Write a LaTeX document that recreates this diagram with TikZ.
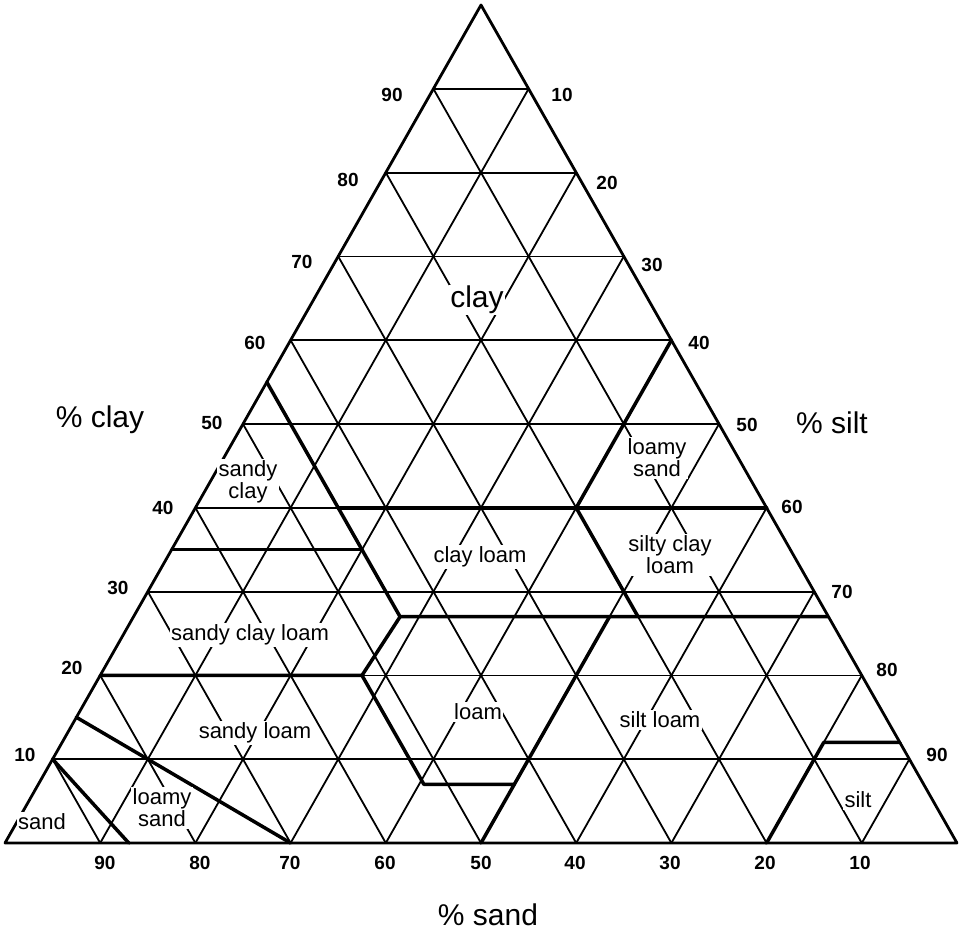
\documentclass[tikz,border=0pt]{standalone}
\usepackage{fontspec}
\setmainfont{Liberation Sans}
\begin{document}
\begin{tikzpicture}[x=1pt,y=-1pt,
  grid/.style={line width=1.8pt,black},
  bnd/.style={line width=3.5pt,black,line cap=round,line join=round},
  region/.style={font=\fontsize{22}{22}\selectfont,align=center,inner sep=1.5pt,fill=white},
  tick/.style={font=\fontsize{19}{19}\selectfont\bfseries,inner sep=1pt,fill=white},
  axis/.style={font=\fontsize{30}{30}\selectfont,inner sep=0pt}]
\useasboundingbox[fill=white] (0,0) rectangle (962,950);
\begin{scope}[shift={(5,843)},x={(9.52pt,0pt)},y={(4.76pt,8.38pt)}]
  \foreach \k in {10,20,...,90}{
    \draw[grid] (0,\k) -- ({100-\k},\k);
    \draw[grid] (\k,0) -- (\k,{100-\k});
    \draw[grid] ({100-\k},0) -- (0,{100-\k});
  }
  \draw[line width=2.8pt,line join=round] (0,0) -- (100,0) -- (0,100) -- cycle;
  % texture boundaries
  \draw[bnd] (13,0) -- (0,10);
  \draw[bnd] (30,0) -- (0,15);
  \draw[bnd] (0,20) -- (27.5,20) -- (40.5,7) -- (50,7) -- (50,0);
  \draw[bnd] (50,7) -- (50,27);
  \draw[bnd] (80,0) -- (80,12) -- (88,12);
  \draw[bnd] (0,55) -- (20,35) -- (28,27) -- (73,27);
  \draw[bnd] (0,35) -- (20,35);
  \draw[bnd] (27.5,20) -- (28,27);
  \draw[bnd] (15,40) -- (60,40);
  \draw[bnd] (40,40) -- (53,27);
  \draw[bnd] (40,40) -- (40,60);
\end{scope}
% region labels
\node[region] (lclay) at (477,300) {\fontsize{30}{30}\selectfont clay};
\node[region] (lls1) at (657,458) {loamy\\sand};
\node[region] (lsc) at (248,482) {sandy\\clay};
\node[region] (lcl) at (480,557) {clay loam};
\node[region] (lscl2) at (670,555) {silty clay\\loam};
\node[region] (lscl) at (250,635) {sandy clay loam};
\node[region] (lloam) at (478,712) {loam};
\node[region] (lsil) at (660,720) {silt loam};
\node[region] (lsl) at (255,733) {sandy loam};
\node[region] (lsilt) at (858,800) {silt};
\node[region] (lls2) at (162,808) {loamy\\sand};
\node[region] (lsand) at (42,822) {sand};
% left ticks (clay)
\node[tick] (c90) at (392,95) {90};
\node[tick] (c80) at (348,180) {80};
\node[tick] (c70) at (302,262) {70};
\node[tick] (c60) at (255,343) {60};
\node[tick] (c50) at (212,423) {50};
\node[tick] (c40) at (163,508) {40};
\node[tick] (c30) at (118,588) {30};
\node[tick] (c20) at (72,668) {20};
\node[tick] (c10) at (25,755) {10};
% right ticks (silt)
\node[tick] (s10) at (562,95) {10};
\node[tick] (s20) at (607,183) {20};
\node[tick] (s30) at (652,265) {30};
\node[tick] (s40) at (699,343) {40};
\node[tick] (s50) at (747,425) {50};
\node[tick] (s60) at (792,507) {60};
\node[tick] (s70) at (842,592) {70};
\node[tick] (s80) at (887,670) {80};
\node[tick] (s90) at (937,755) {90};
% bottom ticks (sand)
\node[tick] (a90) at (105,863) {90};
\node[tick] (a80) at (200,863) {80};
\node[tick] (a70) at (290,863) {70};
\node[tick] (a60) at (385,863) {60};
\node[tick] (a50) at (481,863) {50};
\node[tick] (a40) at (575,863) {40};
\node[tick] (a30) at (670,863) {30};
\node[tick] (a20) at (765,863) {20};
\node[tick] (a10) at (860,863) {10};
% axis titles
\node[axis] (tclay) at (100,420) {\% clay};
\node[axis] (tsilt) at (832,423) {\% silt};
\node[axis] (tsand) at (488,915) {\% sand};
\end{tikzpicture}
\end{document}
